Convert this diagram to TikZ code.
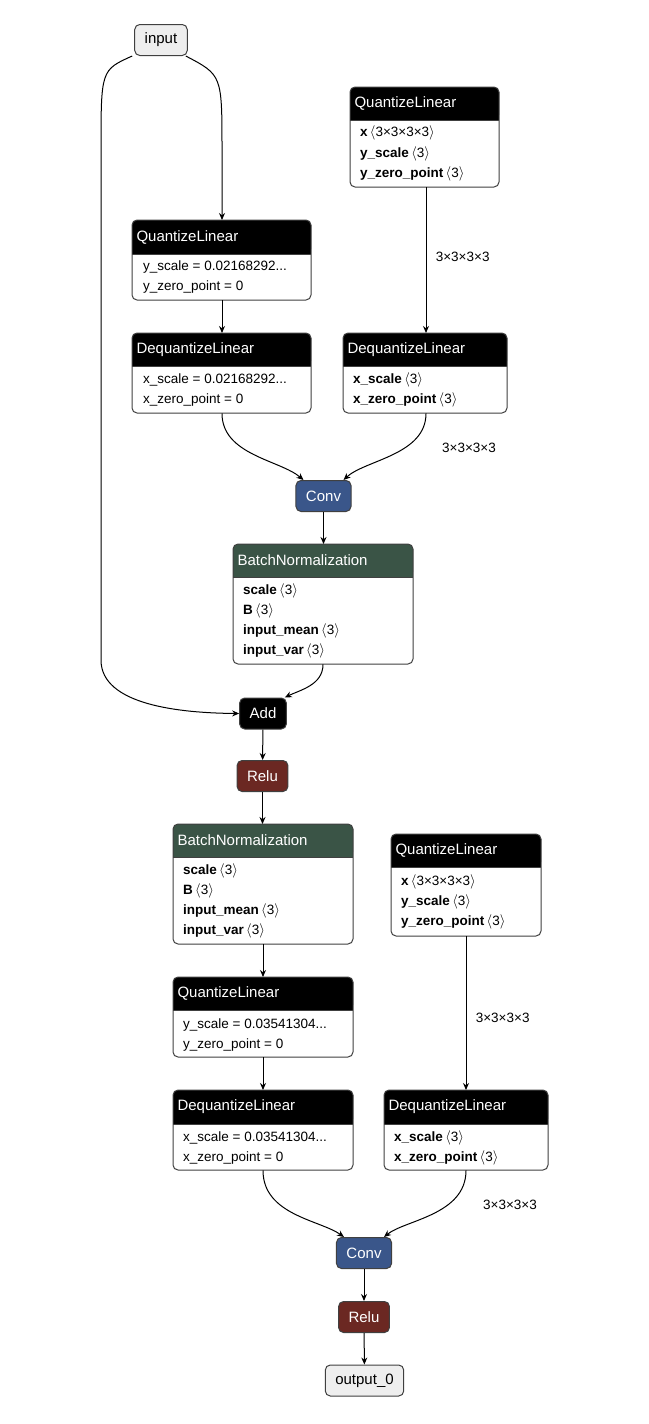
\documentclass[tikz,border=0pt]{standalone}
\usepackage{fontspec}
\setmainfont{Liberation Sans}
\usetikzlibrary{arrows.meta,calc}
\definecolor{convblue}{RGB}{58,86,138}
\definecolor{bngreen}{RGB}{58,84,70}
\definecolor{relured}{RGB}{107,40,34}
\definecolor{iogray}{RGB}{238,238,238}
\tikzset{
  edge/.style={draw=black, line width=1pt, -{Stealth[length=7pt,width=6pt]}},
  frame/.style={draw=black!75, line width=1pt, rounded corners=5pt},
  small/.style={frame, minimum height=31pt, inner xsep=10pt, text=white, font=\fontsize{15}{15}\selectfont},
  head/.style={anchor=west, text=white, font=\fontsize{15}{15}\selectfont},
  attr/.style={anchor=west, inner sep=0pt, font=\fontsize{13.5}{13.5}\selectfont},
  lbl/.style={font=\fontsize{13.5}{13.5}\selectfont}
}
% op box: name, x1, y1, x2, y2, header bottom, colour, title
\newcommand\opbox[8]{%
  \path[fill=white, rounded corners=5pt] (#2,#3) rectangle (#4,#5);
  \fill[#7, rounded corners=5pt] (#2,#3) rectangle (#4,#6);
  \fill[#7] (#2,#3+10) rectangle (#4,#6);
  \draw[frame] (#2,#3) rectangle (#4,#5);
  \draw[black!75, line width=1pt] (#2,#6) -- (#4,#6);
  \node[inner sep=0pt, minimum width=#4-#2, minimum height=#5-#3, anchor=north west] (#1) at (#2,#3) {};
  \node[head] at (#2+1,#3/2+#6/2) {#8};
}
\newcommand\at[2]{\node[attr] at (#1) {#2};}
\newcommand\dims[1]{\,$\langle$#1$\rangle$}
\begin{document}
\begin{tikzpicture}[x=1pt, y=-1pt]
  \useasboundingbox (0,0) rectangle (648,1424);
  % simple nodes
  \node[small, fill=iogray, text=black] (input) at (161,40) {input};
  \node[small, fill=convblue] (conv1) at (323.5,496) {Conv};
  \node[small, fill=black] (add) at (263,713.5) {Add};
  \node[small, fill=relured] (relu1) at (262.5,776) {Relu};
  \node[small, fill=convblue] (conv2) at (364,1253) {Conv};
  \node[small, fill=relured] (relu2) at (364,1317) {Relu};
  \node[small, fill=iogray, text=black] (output) at (364.5,1380.5) {output\_0};
  % operator boxes
  \opbox{ql1}{132}{220}{311}{300}{254}{black}{QuantizeLinear}
  \at{143,267}{y\_scale = 0.02168292...}
  \at{143,287}{y\_zero\_point = 0}
  \opbox{dql1}{132}{333}{311}{413}{366}{black}{DequantizeLinear}
  \at{143,380}{x\_scale = 0.02168292...}
  \at{143,400}{x\_zero\_point = 0}
  \opbox{ql2}{350}{87}{499}{187}{120}{black}{QuantizeLinear}
  \at{360,133}{\textbf{x}\dims{3×3×3×3}}
  \at{360,154}{\textbf{y\_scale}\dims{3}}
  \at{360,174}{\textbf{y\_zero\_point}\dims{3}}
  \opbox{dql2}{343}{333}{507}{413}{366}{black}{DequantizeLinear}
  \at{353,380}{\textbf{x\_scale}\dims{3}}
  \at{353,400}{\textbf{x\_zero\_point}\dims{3}}
  \opbox{bn1}{233}{544}{413}{664}{577}{bngreen}{BatchNormalization}
  \at{243,591}{\textbf{scale}\dims{3}}
  \at{243,611}{\textbf{B}\dims{3}}
  \at{243,631}{\textbf{input\_mean}\dims{3}}
  \at{243,651}{\textbf{input\_var}\dims{3}}
  \opbox{bn2}{173}{824}{353}{944}{857}{bngreen}{BatchNormalization}
  \at{183,871}{\textbf{scale}\dims{3}}
  \at{183,891}{\textbf{B}\dims{3}}
  \at{183,911}{\textbf{input\_mean}\dims{3}}
  \at{183,931}{\textbf{input\_var}\dims{3}}
  \opbox{ql3}{391}{834}{541}{936}{867}{black}{QuantizeLinear}
  \at{401,882}{\textbf{x}\dims{3×3×3×3}}
  \at{401,902}{\textbf{y\_scale}\dims{3}}
  \at{401,922}{\textbf{y\_zero\_point}\dims{3}}
  \opbox{ql4}{173}{977}{353}{1057}{1010}{black}{QuantizeLinear}
  \at{183,1025}{y\_scale = 0.03541304...}
  \at{183,1045}{y\_zero\_point = 0}
  \opbox{dql3}{173}{1090}{353}{1170}{1124}{black}{DequantizeLinear}
  \at{183,1138}{x\_scale = 0.03541304...}
  \at{183,1158}{x\_zero\_point = 0}
  \opbox{dql4}{384}{1090}{548}{1170}{1124}{black}{DequantizeLinear}
  \at{394,1138}{\textbf{x\_scale}\dims{3}}
  \at{394,1158}{\textbf{x\_zero\_point}\dims{3}}
  % connectors
  \draw[edge] ($(input.south east)+(-2,0)$) .. controls (222,75) .. (222,150) -- (ql1.north -| 222,0);
  \draw[edge] ($(input.south west)+(-2,0)$) .. controls (101,70) .. (101,150) -- (101,660) .. controls (101,705) and (180,713) .. (add.west);
  \draw[edge] (ql1.south -| 222,0) -- (dql1.north -| 222,0);
  \draw[edge] (ql2.south -| 426,0) -- node[lbl, right=6pt, pos=0.48] {3×3×3×3} (dql2.north -| 426,0);
  \draw[edge] (dql1.south -| 222,0) .. controls (222,455) and (280,460) .. ($(conv1.north west)+(8,0)$);
  \draw[edge] (dql2.south -| 426,0) .. controls (426,455) and (365,460) .. ($(conv1.north east)+(-8,0)$);
  \node[lbl] (d2) at (469,448) {3×3×3×3};
  \draw[edge] (conv1) -- (bn1.north -| conv1);
  \draw[edge] (bn1.south -| 323,0) .. controls (323,685) and (300,690) .. ($(add.north east)+(-2,0)$);
  \draw[edge] (add) -- (relu1);
  \draw[edge] (relu1) -- (bn2.north -| relu1);
  \draw[edge] (bn2.south -| 263,0) -- (ql4.north -| 263,0);
  \draw[edge] (ql4.south -| 263,0) -- (dql3.north -| 263,0);
  \draw[edge] (ql3.south -| 466,0) -- node[lbl, right=6pt, pos=0.53] {3×3×3×3} (dql4.north -| 466,0);
  \node[lbl] (d4) at (510,1205) {3×3×3×3};
  \draw[edge] (dql3.south -| 263,0) .. controls (263,1215) and (320,1220) .. ($(conv2.north west)+(8,0)$);
  \draw[edge] (dql4.south -| 466,0) .. controls (466,1215) and (405,1220) .. ($(conv2.north east)+(-8,0)$);
  \draw[edge] (conv2) -- (relu2);
  \draw[edge] (relu2) -- (output);
\end{tikzpicture}
\end{document}
